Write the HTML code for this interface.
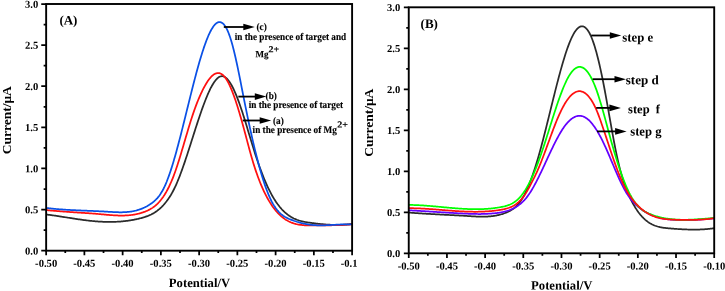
<!DOCTYPE html>
<html lang="en"><head><meta charset="utf-8"><title>Figure</title>
<style>html,body{margin:0;padding:0;background:#fff}svg{display:block}</style></head>
<body>
<svg width="725" height="291" viewBox="0 0 725 291">
<style>text{font-family:'Liberation Serif',serif;font-weight:bold;fill:#000} .s,.p,.g{stroke:#000;stroke-width:.15px} .t{font-size:10.6px} .l{font-size:12.7px} .s{font-size:10.1px} .p{font-size:9.3px} .g{font-size:9.4px} .m{font-size:13px} .c{font-size:13.5px}</style>
<rect width="725" height="291" fill="#fff"/>
<path d="M46.20 214.47 L46.97 214.57 L47.73 214.66 L48.50 214.76 L49.27 214.86 L50.03 214.96 L50.80 215.07 L51.57 215.17 L52.33 215.28 L53.10 215.39 L53.87 215.50 L54.63 215.61 L55.40 215.72 L56.17 215.83 L56.93 215.95 L57.70 216.06 L58.47 216.18 L59.23 216.30 L60.00 216.42 L60.77 216.54 L61.53 216.65 L62.30 216.77 L63.07 216.89 L63.83 217.02 L64.60 217.14 L65.37 217.26 L66.13 217.38 L66.90 217.50 L67.67 217.62 L68.43 217.74 L69.20 217.86 L69.97 217.98 L70.73 218.10 L71.50 218.22 L72.27 218.34 L73.03 218.46 L73.80 218.58 L74.57 218.70 L75.33 218.81 L76.10 218.93 L76.87 219.04 L77.63 219.16 L78.40 219.27 L79.17 219.38 L79.93 219.49 L80.70 219.60 L81.47 219.71 L82.23 219.81 L83.00 219.92 L83.77 220.02 L84.53 220.12 L85.30 220.22 L86.07 220.31 L86.83 220.41 L87.60 220.50 L88.37 220.59 L89.13 220.68 L89.90 220.76 L90.67 220.84 L91.43 220.92 L92.20 221.00 L92.97 221.08 L93.73 221.15 L94.50 221.22 L95.27 221.29 L96.03 221.35 L96.80 221.41 L97.57 221.47 L98.33 221.52 L99.10 221.57 L99.87 221.62 L100.63 221.66 L101.40 221.71 L102.17 221.74 L102.93 221.78 L103.70 221.81 L104.47 221.84 L105.23 221.86 L106.00 221.88 L106.77 221.90 L107.53 221.91 L108.30 221.92 L109.07 221.92 L109.83 221.92 L110.60 221.92 L111.37 221.91 L112.13 221.90 L112.90 221.89 L113.67 221.87 L114.43 221.85 L115.20 221.82 L115.97 221.79 L116.73 221.75 L117.50 221.71 L118.27 221.67 L119.03 221.62 L119.80 221.56 L120.57 221.51 L121.33 221.44 L122.10 221.38 L122.87 221.31 L123.63 221.23 L124.40 221.15 L125.17 221.06 L125.93 220.97 L126.70 220.87 L127.47 220.77 L128.23 220.67 L129.00 220.56 L129.77 220.44 L130.53 220.32 L131.30 220.19 L132.07 220.06 L132.83 219.92 L133.60 219.78 L134.37 219.63 L135.13 219.48 L135.90 219.32 L136.67 219.16 L137.43 218.99 L138.20 218.81 L138.97 218.63 L139.73 218.44 L140.50 218.25 L141.27 218.05 L142.03 217.85 L142.80 217.63 L143.57 217.41 L144.33 217.17 L145.10 216.93 L145.87 216.67 L146.63 216.40 L147.40 216.11 L148.17 215.81 L148.93 215.49 L149.70 215.15 L150.47 214.80 L151.23 214.43 L152.00 214.03 L152.77 213.62 L153.53 213.18 L154.30 212.72 L155.07 212.23 L155.83 211.72 L156.60 211.18 L157.37 210.62 L158.13 210.02 L158.90 209.40 L159.67 208.75 L160.43 208.06 L161.20 207.35 L161.97 206.60 L162.73 205.81 L163.50 204.99 L164.27 204.13 L165.03 203.24 L165.80 202.31 L166.57 201.33 L167.33 200.31 L168.10 199.24 L168.87 198.12 L169.63 196.96 L170.40 195.74 L171.17 194.46 L171.93 193.13 L172.70 191.74 L173.47 190.28 L174.23 188.76 L175.00 187.18 L175.77 185.53 L176.53 183.81 L177.30 182.02 L178.07 180.18 L178.83 178.28 L179.60 176.32 L180.37 174.31 L181.13 172.25 L181.90 170.15 L182.67 168.00 L183.43 165.82 L184.20 163.60 L184.97 161.35 L185.73 159.06 L186.50 156.75 L187.27 154.42 L188.03 152.07 L188.80 149.70 L189.57 147.31 L190.33 144.92 L191.10 142.51 L191.87 140.10 L192.63 137.69 L193.40 135.28 L194.17 132.88 L194.93 130.48 L195.70 128.10 L196.47 125.73 L197.23 123.37 L198.00 121.04 L198.77 118.73 L199.53 116.44 L200.30 114.19 L201.07 111.96 L201.83 109.78 L202.60 107.63 L203.37 105.53 L204.13 103.46 L204.90 101.45 L205.67 99.49 L206.43 97.59 L207.20 95.74 L207.97 93.95 L208.73 92.23 L209.50 90.57 L210.27 88.99 L211.03 87.48 L211.80 86.05 L212.57 84.70 L213.33 83.44 L214.10 82.26 L214.87 81.18 L215.63 80.20 L216.40 79.31 L217.17 78.52 L217.93 77.85 L218.70 77.28 L219.47 76.82 L220.23 76.48 L221.00 76.27 L221.77 76.17 L222.53 76.20 L223.30 76.36 L224.07 76.64 L224.83 77.04 L225.60 77.56 L226.37 78.18 L227.13 78.92 L227.90 79.77 L228.67 80.73 L229.43 81.78 L230.20 82.93 L230.97 84.19 L231.73 85.53 L232.50 86.97 L233.27 88.49 L234.03 90.10 L234.80 91.79 L235.57 93.56 L236.33 95.41 L237.10 97.33 L237.87 99.32 L238.63 101.38 L239.40 103.51 L240.17 105.69 L240.93 107.94 L241.70 110.23 L242.47 112.57 L243.23 114.96 L244.00 117.38 L244.77 119.84 L245.53 122.32 L246.30 124.82 L247.07 127.34 L247.83 129.88 L248.60 132.42 L249.37 134.97 L250.13 137.51 L250.90 140.05 L251.67 142.58 L252.43 145.09 L253.20 147.57 L253.97 150.04 L254.73 152.47 L255.50 154.86 L256.27 157.22 L257.03 159.52 L257.80 161.79 L258.57 164.01 L259.33 166.18 L260.10 168.30 L260.87 170.38 L261.63 172.42 L262.40 174.40 L263.17 176.35 L263.93 178.24 L264.70 180.09 L265.47 181.89 L266.23 183.64 L267.00 185.35 L267.77 187.01 L268.53 188.62 L269.30 190.19 L270.07 191.71 L270.83 193.18 L271.60 194.60 L272.37 195.97 L273.13 197.30 L273.90 198.58 L274.67 199.81 L275.43 201.00 L276.20 202.15 L276.97 203.25 L277.73 204.31 L278.50 205.33 L279.27 206.31 L280.03 207.24 L280.80 208.14 L281.57 209.01 L282.33 209.83 L283.10 210.62 L283.87 211.38 L284.63 212.10 L285.40 212.78 L286.17 213.44 L286.93 214.06 L287.70 214.66 L288.47 215.22 L289.23 215.76 L290.00 216.26 L290.77 216.74 L291.53 217.20 L292.30 217.63 L293.07 218.04 L293.83 218.42 L294.60 218.78 L295.37 219.12 L296.13 219.44 L296.90 219.74 L297.67 220.02 L298.43 220.28 L299.20 220.53 L299.97 220.76 L300.73 220.97 L301.50 221.18 L302.27 221.36 L303.03 221.54 L303.80 221.71 L304.57 221.86 L305.33 222.01 L306.10 222.14 L306.87 222.27 L307.63 222.39 L308.40 222.51 L309.17 222.62 L309.93 222.73 L310.70 222.83 L311.47 222.94 L312.23 223.04 L313.00 223.14 L313.77 223.23 L314.53 223.33 L315.30 223.42 L316.07 223.51 L316.83 223.60 L317.60 223.69 L318.37 223.78 L319.13 223.86 L319.90 223.94 L320.67 224.02 L321.43 224.10 L322.20 224.17 L322.97 224.24 L323.73 224.31 L324.50 224.38 L325.27 224.44 L326.03 224.50 L326.80 224.55 L327.57 224.60 L328.33 224.65 L329.10 224.70 L329.87 224.74 L330.63 224.78 L331.40 224.81 L332.17 224.84 L332.93 224.86 L333.70 224.89 L334.47 224.90 L335.23 224.92 L336.00 224.92 L336.77 224.93 L337.53 224.93 L338.30 224.92 L339.07 224.91 L339.83 224.89 L340.60 224.87 L341.37 224.85 L342.13 224.81 L342.90 224.78 L343.67 224.74 L344.43 224.69 L345.20 224.63 L345.97 224.57 L346.73 224.51 L347.50 224.44 L348.27 224.36 L349.03 224.28 L349.80 224.19 L350.57 224.09 L351.33 223.99 L352.10 223.88" stroke="#2b2b2b" stroke-width="1.75" fill="none" stroke-linejoin="round" stroke-linecap="butt"/>
<path d="M46.20 210.04 L46.97 210.13 L47.73 210.21 L48.50 210.28 L49.27 210.36 L50.03 210.44 L50.80 210.51 L51.57 210.58 L52.33 210.66 L53.10 210.73 L53.87 210.80 L54.63 210.86 L55.40 210.93 L56.17 210.99 L56.93 211.06 L57.70 211.12 L58.47 211.18 L59.23 211.24 L60.00 211.30 L60.77 211.36 L61.53 211.42 L62.30 211.48 L63.07 211.53 L63.83 211.59 L64.60 211.64 L65.37 211.70 L66.13 211.75 L66.90 211.80 L67.67 211.86 L68.43 211.91 L69.20 211.96 L69.97 212.01 L70.73 212.06 L71.50 212.11 L72.27 212.16 L73.03 212.21 L73.80 212.26 L74.57 212.31 L75.33 212.36 L76.10 212.41 L76.87 212.46 L77.63 212.51 L78.40 212.56 L79.17 212.61 L79.93 212.66 L80.70 212.71 L81.47 212.76 L82.23 212.81 L83.00 212.86 L83.77 212.91 L84.53 212.96 L85.30 213.01 L86.07 213.06 L86.83 213.12 L87.60 213.17 L88.37 213.22 L89.13 213.28 L89.90 213.33 L90.67 213.39 L91.43 213.45 L92.20 213.50 L92.97 213.56 L93.73 213.62 L94.50 213.68 L95.27 213.74 L96.03 213.81 L96.80 213.87 L97.57 213.93 L98.33 214.00 L99.10 214.07 L99.87 214.13 L100.63 214.20 L101.40 214.27 L102.17 214.34 L102.93 214.41 L103.70 214.49 L104.47 214.56 L105.23 214.63 L106.00 214.70 L106.77 214.76 L107.53 214.83 L108.30 214.90 L109.07 214.96 L109.83 215.02 L110.60 215.08 L111.37 215.14 L112.13 215.20 L112.90 215.25 L113.67 215.30 L114.43 215.34 L115.20 215.39 L115.97 215.42 L116.73 215.46 L117.50 215.49 L118.27 215.51 L119.03 215.53 L119.80 215.55 L120.57 215.56 L121.33 215.56 L122.10 215.56 L122.87 215.55 L123.63 215.54 L124.40 215.52 L125.17 215.49 L125.93 215.46 L126.70 215.42 L127.47 215.37 L128.23 215.31 L129.00 215.25 L129.77 215.17 L130.53 215.09 L131.30 215.00 L132.07 214.90 L132.83 214.79 L133.60 214.67 L134.37 214.55 L135.13 214.41 L135.90 214.26 L136.67 214.10 L137.43 213.93 L138.20 213.75 L138.97 213.56 L139.73 213.36 L140.50 213.14 L141.27 212.92 L142.03 212.68 L142.80 212.43 L143.57 212.16 L144.33 211.89 L145.10 211.60 L145.87 211.29 L146.63 210.97 L147.40 210.63 L148.17 210.27 L148.93 209.89 L149.70 209.49 L150.47 209.07 L151.23 208.61 L152.00 208.13 L152.77 207.62 L153.53 207.08 L154.30 206.50 L155.07 205.89 L155.83 205.24 L156.60 204.56 L157.37 203.83 L158.13 203.07 L158.90 202.26 L159.67 201.40 L160.43 200.50 L161.20 199.55 L161.97 198.55 L162.73 197.49 L163.50 196.39 L164.27 195.23 L165.03 194.01 L165.80 192.73 L166.57 191.39 L167.33 189.99 L168.10 188.53 L168.87 187.00 L169.63 185.40 L170.40 183.73 L171.17 182.00 L171.93 180.19 L172.70 178.31 L173.47 176.35 L174.23 174.31 L175.00 172.20 L175.77 170.01 L176.53 167.76 L177.30 165.44 L178.07 163.07 L178.83 160.65 L179.60 158.19 L180.37 155.68 L181.13 153.15 L181.90 150.58 L182.67 148.00 L183.43 145.40 L184.20 142.79 L184.97 140.18 L185.73 137.57 L186.50 134.97 L187.27 132.38 L188.03 129.81 L188.80 127.26 L189.57 124.75 L190.33 122.28 L191.10 119.84 L191.87 117.46 L192.63 115.13 L193.40 112.86 L194.17 110.64 L194.93 108.49 L195.70 106.40 L196.47 104.36 L197.23 102.39 L198.00 100.47 L198.77 98.61 L199.53 96.81 L200.30 95.07 L201.07 93.38 L201.83 91.76 L202.60 90.19 L203.37 88.68 L204.13 87.23 L204.90 85.83 L205.67 84.49 L206.43 83.22 L207.20 82.01 L207.97 80.86 L208.73 79.78 L209.50 78.77 L210.27 77.84 L211.03 76.98 L211.80 76.20 L212.57 75.50 L213.33 74.88 L214.10 74.34 L214.87 73.90 L215.63 73.54 L216.40 73.28 L217.17 73.11 L217.93 73.04 L218.70 73.06 L219.47 73.19 L220.23 73.43 L221.00 73.77 L221.77 74.22 L222.53 74.78 L223.30 75.45 L224.07 76.24 L224.83 77.15 L225.60 78.17 L226.37 79.31 L227.13 80.56 L227.90 81.91 L228.67 83.37 L229.43 84.92 L230.20 86.58 L230.97 88.32 L231.73 90.16 L232.50 92.08 L233.27 94.09 L234.03 96.18 L234.80 98.35 L235.57 100.58 L236.33 102.90 L237.10 105.27 L237.87 107.71 L238.63 110.22 L239.40 112.77 L240.17 115.39 L240.93 118.05 L241.70 120.75 L242.47 123.50 L243.23 126.29 L244.00 129.11 L244.77 131.96 L245.53 134.84 L246.30 137.73 L247.07 140.63 L247.83 143.52 L248.60 146.39 L249.37 149.23 L250.13 152.04 L250.90 154.79 L251.67 157.48 L252.43 160.10 L253.20 162.65 L253.97 165.12 L254.73 167.53 L255.50 169.86 L256.27 172.13 L257.03 174.32 L257.80 176.46 L258.57 178.52 L259.33 180.53 L260.10 182.47 L260.87 184.35 L261.63 186.17 L262.40 187.94 L263.17 189.64 L263.93 191.30 L264.70 192.89 L265.47 194.43 L266.23 195.93 L267.00 197.37 L267.77 198.76 L268.53 200.10 L269.30 201.39 L270.07 202.64 L270.83 203.85 L271.60 205.01 L272.37 206.13 L273.13 207.21 L273.90 208.24 L274.67 209.24 L275.43 210.20 L276.20 211.11 L276.97 211.99 L277.73 212.84 L278.50 213.64 L279.27 214.42 L280.03 215.15 L280.80 215.86 L281.57 216.53 L282.33 217.17 L283.10 217.77 L283.87 218.35 L284.63 218.89 L285.40 219.41 L286.17 219.90 L286.93 220.36 L287.70 220.80 L288.47 221.21 L289.23 221.59 L290.00 221.95 L290.77 222.29 L291.53 222.60 L292.30 222.89 L293.07 223.17 L293.83 223.42 L294.60 223.65 L295.37 223.86 L296.13 224.06 L296.90 224.23 L297.67 224.40 L298.43 224.54 L299.20 224.67 L299.97 224.79 L300.73 224.90 L301.50 224.99 L302.27 225.07 L303.03 225.14 L303.80 225.20 L304.57 225.26 L305.33 225.30 L306.10 225.34 L306.87 225.37 L307.63 225.39 L308.40 225.41 L309.17 225.42 L309.93 225.43 L310.70 225.44 L311.47 225.45 L312.23 225.46 L313.00 225.46 L313.77 225.46 L314.53 225.47 L315.30 225.47 L316.07 225.47 L316.83 225.47 L317.60 225.46 L318.37 225.46 L319.13 225.46 L319.90 225.45 L320.67 225.45 L321.43 225.44 L322.20 225.43 L322.97 225.42 L323.73 225.41 L324.50 225.40 L325.27 225.39 L326.03 225.38 L326.80 225.36 L327.57 225.35 L328.33 225.33 L329.10 225.31 L329.87 225.30 L330.63 225.28 L331.40 225.26 L332.17 225.24 L332.93 225.21 L333.70 225.19 L334.47 225.17 L335.23 225.14 L336.00 225.12 L336.77 225.09 L337.53 225.06 L338.30 225.04 L339.07 225.01 L339.83 224.98 L340.60 224.95 L341.37 224.91 L342.13 224.88 L342.90 224.85 L343.67 224.81 L344.43 224.78 L345.20 224.74 L345.97 224.71 L346.73 224.67 L347.50 224.63 L348.27 224.59 L349.03 224.55 L349.80 224.51 L350.57 224.47 L351.33 224.42 L352.10 224.38" stroke="#ff1010" stroke-width="1.75" fill="none" stroke-linejoin="round" stroke-linecap="butt"/>
<path d="M46.20 207.93 L46.97 208.03 L47.73 208.12 L48.50 208.21 L49.27 208.30 L50.03 208.39 L50.80 208.47 L51.57 208.55 L52.33 208.63 L53.10 208.71 L53.87 208.78 L54.63 208.86 L55.40 208.93 L56.17 209.00 L56.93 209.07 L57.70 209.13 L58.47 209.19 L59.23 209.26 L60.00 209.32 L60.77 209.38 L61.53 209.43 L62.30 209.49 L63.07 209.54 L63.83 209.60 L64.60 209.65 L65.37 209.70 L66.13 209.75 L66.90 209.79 L67.67 209.84 L68.43 209.88 L69.20 209.93 L69.97 209.97 L70.73 210.01 L71.50 210.05 L72.27 210.09 L73.03 210.13 L73.80 210.17 L74.57 210.21 L75.33 210.24 L76.10 210.28 L76.87 210.32 L77.63 210.35 L78.40 210.38 L79.17 210.42 L79.93 210.45 L80.70 210.48 L81.47 210.51 L82.23 210.55 L83.00 210.58 L83.77 210.61 L84.53 210.64 L85.30 210.67 L86.07 210.70 L86.83 210.73 L87.60 210.76 L88.37 210.79 L89.13 210.83 L89.90 210.86 L90.67 210.89 L91.43 210.92 L92.20 210.95 L92.97 210.98 L93.73 211.02 L94.50 211.05 L95.27 211.08 L96.03 211.12 L96.80 211.15 L97.57 211.19 L98.33 211.22 L99.10 211.26 L99.87 211.29 L100.63 211.33 L101.40 211.37 L102.17 211.41 L102.93 211.45 L103.70 211.49 L104.47 211.54 L105.23 211.58 L106.00 211.62 L106.77 211.67 L107.53 211.72 L108.30 211.76 L109.07 211.81 L109.83 211.86 L110.60 211.90 L111.37 211.95 L112.13 211.99 L112.90 212.03 L113.67 212.07 L114.43 212.11 L115.20 212.14 L115.97 212.18 L116.73 212.20 L117.50 212.23 L118.27 212.24 L119.03 212.26 L119.80 212.27 L120.57 212.27 L121.33 212.27 L122.10 212.26 L122.87 212.24 L123.63 212.22 L124.40 212.19 L125.17 212.15 L125.93 212.10 L126.70 212.05 L127.47 211.98 L128.23 211.91 L129.00 211.83 L129.77 211.74 L130.53 211.63 L131.30 211.52 L132.07 211.39 L132.83 211.26 L133.60 211.11 L134.37 210.95 L135.13 210.77 L135.90 210.59 L136.67 210.39 L137.43 210.17 L138.20 209.94 L138.97 209.70 L139.73 209.44 L140.50 209.17 L141.27 208.88 L142.03 208.58 L142.80 208.26 L143.57 207.92 L144.33 207.57 L145.10 207.19 L145.87 206.80 L146.63 206.40 L147.40 205.97 L148.17 205.52 L148.93 205.06 L149.70 204.57 L150.47 204.07 L151.23 203.54 L152.00 202.99 L152.77 202.41 L153.53 201.80 L154.30 201.14 L155.07 200.45 L155.83 199.71 L156.60 198.92 L157.37 198.07 L158.13 197.16 L158.90 196.19 L159.67 195.15 L160.43 194.04 L161.20 192.85 L161.97 191.57 L162.73 190.21 L163.50 188.76 L164.27 187.22 L165.03 185.57 L165.80 183.83 L166.57 181.99 L167.33 180.05 L168.10 178.03 L168.87 175.92 L169.63 173.73 L170.40 171.46 L171.17 169.12 L171.93 166.71 L172.70 164.22 L173.47 161.68 L174.23 159.07 L175.00 156.40 L175.77 153.68 L176.53 150.91 L177.30 148.10 L178.07 145.24 L178.83 142.34 L179.60 139.40 L180.37 136.43 L181.13 133.43 L181.90 130.40 L182.67 127.36 L183.43 124.29 L184.20 121.21 L184.97 118.12 L185.73 115.01 L186.50 111.91 L187.27 108.80 L188.03 105.69 L188.80 102.59 L189.57 99.49 L190.33 96.41 L191.10 93.34 L191.87 90.30 L192.63 87.27 L193.40 84.27 L194.17 81.30 L194.93 78.36 L195.70 75.46 L196.47 72.60 L197.23 69.78 L198.00 67.01 L198.77 64.28 L199.53 61.61 L200.30 59.00 L201.07 56.45 L201.83 53.96 L202.60 51.53 L203.37 49.18 L204.13 46.90 L204.90 44.70 L205.67 42.58 L206.43 40.54 L207.20 38.59 L207.97 36.73 L208.73 34.96 L209.50 33.30 L210.27 31.73 L211.03 30.27 L211.80 28.92 L212.57 27.68 L213.33 26.55 L214.10 25.54 L214.87 24.66 L215.63 23.89 L216.40 23.26 L217.17 22.76 L217.93 22.39 L218.70 22.16 L219.47 22.08 L220.23 22.13 L221.00 22.34 L221.77 22.70 L222.53 23.21 L223.30 23.88 L224.07 24.71 L224.83 25.71 L225.60 26.87 L226.37 28.21 L227.13 29.72 L227.90 31.41 L228.67 33.28 L229.43 35.33 L230.20 37.56 L230.97 39.96 L231.73 42.53 L232.50 45.26 L233.27 48.16 L234.03 51.22 L234.80 54.43 L235.57 57.76 L236.33 61.21 L237.10 64.77 L237.87 68.42 L238.63 72.15 L239.40 75.94 L240.17 79.78 L240.93 83.65 L241.70 87.55 L242.47 91.46 L243.23 95.36 L244.00 99.24 L244.77 103.09 L245.53 106.91 L246.30 110.67 L247.07 114.40 L247.83 118.07 L248.60 121.70 L249.37 125.28 L250.13 128.81 L250.90 132.29 L251.67 135.72 L252.43 139.09 L253.20 142.40 L253.97 145.66 L254.73 148.85 L255.50 151.99 L256.27 155.07 L257.03 158.08 L257.80 161.02 L258.57 163.90 L259.33 166.71 L260.10 169.46 L260.87 172.13 L261.63 174.73 L262.40 177.25 L263.17 179.70 L263.93 182.08 L264.70 184.37 L265.47 186.59 L266.23 188.73 L267.00 190.78 L267.77 192.75 L268.53 194.63 L269.30 196.43 L270.07 198.14 L270.83 199.76 L271.60 201.29 L272.37 202.73 L273.13 204.09 L273.90 205.37 L274.67 206.57 L275.43 207.70 L276.20 208.76 L276.97 209.75 L277.73 210.68 L278.50 211.55 L279.27 212.36 L280.03 213.11 L280.80 213.81 L281.57 214.46 L282.33 215.06 L283.10 215.63 L283.87 216.15 L284.63 216.64 L285.40 217.09 L286.17 217.51 L286.93 217.91 L287.70 218.28 L288.47 218.62 L289.23 218.96 L290.00 219.27 L290.77 219.58 L291.53 219.87 L292.30 220.16 L293.07 220.44 L293.83 220.72 L294.60 220.98 L295.37 221.24 L296.13 221.49 L296.90 221.74 L297.67 221.97 L298.43 222.20 L299.20 222.43 L299.97 222.64 L300.73 222.85 L301.50 223.04 L302.27 223.23 L303.03 223.42 L303.80 223.59 L304.57 223.76 L305.33 223.91 L306.10 224.06 L306.87 224.20 L307.63 224.34 L308.40 224.46 L309.17 224.58 L309.93 224.68 L310.70 224.78 L311.47 224.87 L312.23 224.95 L313.00 225.03 L313.77 225.09 L314.53 225.15 L315.30 225.20 L316.07 225.24 L316.83 225.27 L317.60 225.30 L318.37 225.32 L319.13 225.34 L319.90 225.35 L320.67 225.35 L321.43 225.35 L322.20 225.34 L322.97 225.33 L323.73 225.32 L324.50 225.30 L325.27 225.27 L326.03 225.25 L326.80 225.22 L327.57 225.19 L328.33 225.15 L329.10 225.11 L329.87 225.08 L330.63 225.04 L331.40 224.99 L332.17 224.95 L332.93 224.91 L333.70 224.86 L334.47 224.82 L335.23 224.77 L336.00 224.73 L336.77 224.69 L337.53 224.65 L338.30 224.61 L339.07 224.57 L339.83 224.53 L340.60 224.49 L341.37 224.46 L342.13 224.43 L342.90 224.41 L343.67 224.38 L344.43 224.37 L345.20 224.35 L345.97 224.34 L346.73 224.33 L347.50 224.33 L348.27 224.34 L349.03 224.35 L349.80 224.36 L350.57 224.38 L351.33 224.41 L352.10 224.44" stroke="#0a50e6" stroke-width="1.75" fill="none" stroke-linejoin="round" stroke-linecap="butt"/>
<path d="M41.25 250.70 H46.15 M43.65 230.14 H46.15 M41.25 209.58 H46.15 M43.65 189.02 H46.15 M41.25 168.47 H46.15 M43.65 147.91 H46.15 M41.25 127.35 H46.15 M43.65 106.79 H46.15 M41.25 86.23 H46.15 M43.65 65.68 H46.15 M41.25 45.12 H46.15 M43.65 24.56 H46.15 M41.25 4.00 H46.15 M46.15 250.70 V255.30 M65.27 250.70 V253.10 M84.39 250.70 V255.30 M103.52 250.70 V253.10 M122.64 250.70 V255.30 M141.76 250.70 V253.10 M160.88 250.70 V255.30 M180.00 250.70 V253.10 M199.13 250.70 V255.30 M218.25 250.70 V253.10 M237.37 250.70 V255.30 M256.49 250.70 V253.10 M275.61 250.70 V255.30 M294.73 250.70 V253.10 M313.86 250.70 V255.30 M332.98 250.70 V253.10 M352.10 250.70 V255.30" stroke="#000" stroke-width="1.75" fill="none"/>
<rect x="46.15" y="4.00" width="305.95" height="246.70" fill="none" stroke="#000" stroke-width="1.90"/>
<text x="38.30" y="254.40" text-anchor="end" class="t" transform="rotate(0.03 38.30 254.40)">0.0</text>
<text x="38.30" y="213.28" text-anchor="end" class="t" transform="rotate(0.03 38.30 213.28)">0.5</text>
<text x="38.30" y="172.17" text-anchor="end" class="t" transform="rotate(0.03 38.30 172.17)">1.0</text>
<text x="38.30" y="131.05" text-anchor="end" class="t" transform="rotate(0.03 38.30 131.05)">1.5</text>
<text x="38.30" y="89.93" text-anchor="end" class="t" transform="rotate(0.03 38.30 89.93)">2.0</text>
<text x="38.30" y="48.82" text-anchor="end" class="t" transform="rotate(0.03 38.30 48.82)">2.5</text>
<text x="38.30" y="7.70" text-anchor="end" class="t" transform="rotate(0.03 38.30 7.70)">3.0</text>
<text x="46.15" y="266.80" text-anchor="middle" class="t" transform="rotate(0.03 46.15 266.80)">-0.50</text>
<text x="84.39" y="266.80" text-anchor="middle" class="t" transform="rotate(0.03 84.39 266.80)">-0.45</text>
<text x="122.64" y="266.80" text-anchor="middle" class="t" transform="rotate(0.03 122.64 266.80)">-0.40</text>
<text x="160.88" y="266.80" text-anchor="middle" class="t" transform="rotate(0.03 160.88 266.80)">-0.35</text>
<text x="199.13" y="266.80" text-anchor="middle" class="t" transform="rotate(0.03 199.13 266.80)">-0.30</text>
<text x="237.37" y="266.80" text-anchor="middle" class="t" transform="rotate(0.03 237.37 266.80)">-0.25</text>
<text x="275.61" y="266.80" text-anchor="middle" class="t" transform="rotate(0.03 275.61 266.80)">-0.20</text>
<text x="313.86" y="266.80" text-anchor="middle" class="t" transform="rotate(0.03 313.86 266.80)">-0.15</text>
<text x="340.70" y="266.80" text-anchor="start" class="t" transform="rotate(0.03 340.70 266.80)">-0.1</text>
<text class="c" text-anchor="middle" transform="translate(11.4 120.25) rotate(-90)">Current/μA</text>
<text class="l" text-anchor="middle" x="199.5" y="287" transform="rotate(0.03 199.5 287)">Potential/V</text>
<text class="m" x="59.4" y="24.4" transform="rotate(0.03 59.4 24.4)">(A)</text>
<path d="M223.80 27.00 H244.30" stroke="#000" stroke-width="1.8" fill="none"/>
<path d="M254.80 27.00 L243.30 23.70 L243.30 30.30 Z" fill="#000"/>
<text class="s" x="256.5" y="30.4" textLength="10.20" lengthAdjust="spacingAndGlyphs" transform="rotate(0.03 256.5 30.4)">(c)</text>
<text class="s" x="234.8" y="39.6" textLength="111.34" lengthAdjust="spacingAndGlyphs" transform="rotate(0.03 234.8 39.6)">in the presence of target and</text>
<text class="g" x="255.5" y="57.3" textLength="13.00" lengthAdjust="spacingAndGlyphs" transform="rotate(0.03 255.5 57.3)">Mg</text>
<text class="p" x="268.5" y="52.3" textLength="10.7" lengthAdjust="spacingAndGlyphs" transform="rotate(0.03 268.5 52.3)">2+</text>
<path d="M238.30 96.60 H255.80" stroke="#000" stroke-width="1.8" fill="none"/>
<path d="M266.30 96.60 L254.80 93.30 L254.80 99.90 Z" fill="#000"/>
<text class="s" x="265.6" y="99.3" textLength="11.23" lengthAdjust="spacingAndGlyphs" transform="rotate(0.03 265.6 99.3)">(b)</text>
<text class="s" x="248.8" y="108" textLength="94.23" lengthAdjust="spacingAndGlyphs" transform="rotate(0.03 248.8 108)">in the presence of target</text>
<path d="M242.80 120.50 H260.70" stroke="#000" stroke-width="1.8" fill="none"/>
<path d="M271.20 120.50 L259.70 117.20 L259.70 123.80 Z" fill="#000"/>
<text class="s" x="273" y="123.8" textLength="10.72" lengthAdjust="spacingAndGlyphs" transform="rotate(0.03 273 123.8)">(a)</text>
<text class="s" x="252.6" y="132.5" textLength="84.30" lengthAdjust="spacingAndGlyphs" transform="rotate(0.03 252.6 132.5)">in the presence of Mg</text>
<text class="p" x="337.3" y="127.6" textLength="10.7" lengthAdjust="spacingAndGlyphs" transform="rotate(0.03 337.3 127.6)">2+</text>
<path d="M408.80 212.57 L409.57 212.63 L410.33 212.69 L411.10 212.75 L411.86 212.81 L412.63 212.87 L413.39 212.92 L414.16 212.98 L414.92 213.03 L415.69 213.09 L416.45 213.14 L417.22 213.19 L417.98 213.24 L418.75 213.30 L419.52 213.35 L420.28 213.40 L421.05 213.45 L421.81 213.49 L422.58 213.54 L423.34 213.59 L424.11 213.64 L424.87 213.68 L425.64 213.73 L426.40 213.77 L427.17 213.82 L427.94 213.86 L428.70 213.91 L429.47 213.95 L430.23 213.99 L431.00 214.04 L431.76 214.08 L432.53 214.12 L433.29 214.16 L434.06 214.20 L434.82 214.24 L435.59 214.29 L436.35 214.33 L437.12 214.37 L437.89 214.41 L438.65 214.45 L439.42 214.49 L440.18 214.53 L440.95 214.57 L441.71 214.61 L442.48 214.64 L443.24 214.68 L444.01 214.72 L444.77 214.76 L445.54 214.80 L446.31 214.84 L447.07 214.88 L447.84 214.92 L448.60 214.96 L449.37 215.00 L450.13 215.04 L450.90 215.08 L451.66 215.12 L452.43 215.16 L453.19 215.20 L453.96 215.24 L454.72 215.28 L455.49 215.32 L456.26 215.36 L457.02 215.41 L457.79 215.45 L458.55 215.49 L459.32 215.53 L460.08 215.58 L460.85 215.62 L461.61 215.66 L462.38 215.71 L463.14 215.75 L463.91 215.80 L464.68 215.84 L465.44 215.89 L466.21 215.94 L466.97 215.99 L467.74 216.03 L468.50 216.08 L469.27 216.13 L470.03 216.18 L470.80 216.23 L471.56 216.27 L472.33 216.32 L473.09 216.36 L473.86 216.40 L474.63 216.44 L475.39 216.48 L476.16 216.52 L476.92 216.55 L477.69 216.58 L478.45 216.60 L479.22 216.63 L479.98 216.64 L480.75 216.66 L481.51 216.67 L482.28 216.67 L483.05 216.67 L483.81 216.66 L484.58 216.65 L485.34 216.63 L486.11 216.60 L486.87 216.57 L487.64 216.53 L488.40 216.48 L489.17 216.43 L489.93 216.36 L490.70 216.29 L491.46 216.21 L492.23 216.12 L493.00 216.03 L493.76 215.92 L494.53 215.80 L495.29 215.68 L496.06 215.54 L496.82 215.39 L497.59 215.23 L498.35 215.06 L499.12 214.88 L499.88 214.69 L500.65 214.49 L501.42 214.27 L502.18 214.04 L502.95 213.80 L503.71 213.54 L504.48 213.27 L505.24 212.99 L506.01 212.69 L506.77 212.38 L507.54 212.05 L508.30 211.70 L509.07 211.33 L509.83 210.94 L510.60 210.52 L511.37 210.06 L512.13 209.58 L512.90 209.06 L513.66 208.49 L514.43 207.89 L515.19 207.24 L515.96 206.54 L516.72 205.78 L517.49 204.98 L518.25 204.11 L519.02 203.19 L519.78 202.20 L520.55 201.15 L521.32 200.03 L522.08 198.83 L522.85 197.56 L523.61 196.22 L524.38 194.80 L525.14 193.31 L525.91 191.75 L526.67 190.12 L527.44 188.42 L528.20 186.65 L528.97 184.81 L529.74 182.90 L530.50 180.93 L531.27 178.89 L532.03 176.78 L532.80 174.61 L533.56 172.38 L534.33 170.08 L535.09 167.72 L535.86 165.29 L536.62 162.81 L537.39 160.26 L538.15 157.66 L538.92 154.99 L539.69 152.27 L540.45 149.50 L541.22 146.68 L541.98 143.81 L542.75 140.91 L543.51 137.96 L544.28 134.98 L545.04 131.98 L545.81 128.94 L546.57 125.89 L547.34 122.81 L548.11 119.72 L548.87 116.62 L549.64 113.51 L550.40 110.40 L551.17 107.29 L551.93 104.19 L552.70 101.09 L553.46 98.00 L554.23 94.93 L554.99 91.88 L555.76 88.86 L556.52 85.86 L557.29 82.89 L558.06 79.95 L558.82 77.06 L559.59 74.20 L560.35 71.39 L561.12 68.63 L561.88 65.93 L562.65 63.28 L563.41 60.69 L564.18 58.17 L564.94 55.72 L565.71 53.34 L566.48 51.03 L567.24 48.81 L568.01 46.67 L568.77 44.62 L569.54 42.66 L570.30 40.79 L571.07 39.02 L571.83 37.36 L572.60 35.80 L573.36 34.35 L574.13 33.01 L574.89 31.79 L575.66 30.68 L576.43 29.70 L577.19 28.83 L577.96 28.08 L578.72 27.46 L579.49 26.97 L580.25 26.60 L581.02 26.37 L581.78 26.26 L582.55 26.30 L583.31 26.47 L584.08 26.78 L584.85 27.23 L585.61 27.82 L586.38 28.56 L587.14 29.45 L587.91 30.48 L588.67 31.67 L589.44 33.02 L590.20 34.52 L590.97 36.17 L591.73 37.99 L592.50 39.97 L593.26 42.10 L594.03 44.38 L594.80 46.81 L595.56 49.39 L596.33 52.10 L597.09 54.96 L597.86 57.95 L598.62 61.06 L599.39 64.31 L600.15 67.67 L600.92 71.16 L601.68 74.76 L602.45 78.47 L603.22 82.29 L603.98 86.21 L604.75 90.24 L605.51 94.36 L606.28 98.55 L607.04 102.81 L607.81 107.10 L608.57 111.43 L609.34 115.78 L610.10 120.12 L610.87 124.44 L611.63 128.73 L612.40 132.96 L613.17 137.14 L613.93 141.23 L614.70 145.23 L615.46 149.11 L616.23 152.87 L616.99 156.48 L617.76 159.93 L618.52 163.23 L619.29 166.37 L620.05 169.37 L620.82 172.22 L621.58 174.94 L622.35 177.53 L623.12 180.00 L623.88 182.36 L624.65 184.60 L625.41 186.74 L626.18 188.78 L626.94 190.73 L627.71 192.60 L628.47 194.38 L629.24 196.10 L630.00 197.74 L630.77 199.33 L631.54 200.86 L632.30 202.33 L633.07 203.75 L633.83 205.11 L634.60 206.42 L635.36 207.68 L636.13 208.88 L636.89 210.04 L637.66 211.15 L638.42 212.21 L639.19 213.23 L639.95 214.19 L640.72 215.12 L641.49 216.00 L642.25 216.84 L643.02 217.64 L643.78 218.40 L644.55 219.12 L645.31 219.80 L646.08 220.45 L646.84 221.06 L647.61 221.64 L648.37 222.18 L649.14 222.69 L649.91 223.17 L650.67 223.62 L651.44 224.04 L652.20 224.44 L652.97 224.81 L653.73 225.15 L654.50 225.47 L655.26 225.76 L656.03 226.03 L656.79 226.28 L657.56 226.52 L658.32 226.73 L659.09 226.92 L659.86 227.10 L660.62 227.27 L661.39 227.41 L662.15 227.55 L662.92 227.67 L663.68 227.79 L664.45 227.89 L665.21 227.98 L665.98 228.07 L666.74 228.15 L667.51 228.22 L668.28 228.29 L669.04 228.36 L669.81 228.42 L670.57 228.48 L671.34 228.54 L672.10 228.60 L672.87 228.66 L673.63 228.72 L674.40 228.78 L675.16 228.84 L675.93 228.89 L676.69 228.94 L677.46 229.00 L678.23 229.05 L678.99 229.10 L679.76 229.14 L680.52 229.19 L681.29 229.23 L682.05 229.27 L682.82 229.31 L683.58 229.35 L684.35 229.38 L685.11 229.42 L685.88 229.45 L686.65 229.47 L687.41 229.50 L688.18 229.52 L688.94 229.54 L689.71 229.56 L690.47 229.58 L691.24 229.59 L692.00 229.60 L692.77 229.60 L693.53 229.60 L694.30 229.60 L695.06 229.60 L695.83 229.59 L696.60 229.58 L697.36 229.57 L698.13 229.55 L698.89 229.53 L699.66 229.51 L700.42 229.48 L701.19 229.44 L701.95 229.41 L702.72 229.37 L703.48 229.32 L704.25 229.27 L705.02 229.22 L705.78 229.16 L706.55 229.10 L707.31 229.03 L708.08 228.96 L708.84 228.89 L709.61 228.81 L710.37 228.72 L711.14 228.63 L711.90 228.53 L712.67 228.43 L713.43 228.33 L714.20 228.22" stroke="#2b2b2b" stroke-width="1.75" fill="none" stroke-linejoin="round" stroke-linecap="butt"/>
<path d="M408.80 210.32 L409.57 210.36 L410.33 210.40 L411.10 210.45 L411.86 210.49 L412.63 210.53 L413.39 210.57 L414.16 210.61 L414.92 210.66 L415.69 210.70 L416.45 210.74 L417.22 210.79 L417.98 210.83 L418.75 210.88 L419.52 210.92 L420.28 210.97 L421.05 211.01 L421.81 211.06 L422.58 211.10 L423.34 211.15 L424.11 211.20 L424.87 211.24 L425.64 211.29 L426.40 211.34 L427.17 211.39 L427.94 211.43 L428.70 211.48 L429.47 211.53 L430.23 211.58 L431.00 211.62 L431.76 211.67 L432.53 211.72 L433.29 211.77 L434.06 211.82 L434.82 211.86 L435.59 211.91 L436.35 211.96 L437.12 212.01 L437.89 212.06 L438.65 212.10 L439.42 212.15 L440.18 212.20 L440.95 212.25 L441.71 212.29 L442.48 212.34 L443.24 212.39 L444.01 212.44 L444.77 212.48 L445.54 212.53 L446.31 212.58 L447.07 212.62 L447.84 212.67 L448.60 212.72 L449.37 212.76 L450.13 212.81 L450.90 212.85 L451.66 212.90 L452.43 212.94 L453.19 212.99 L453.96 213.03 L454.72 213.08 L455.49 213.12 L456.26 213.16 L457.02 213.21 L457.79 213.25 L458.55 213.29 L459.32 213.33 L460.08 213.37 L460.85 213.41 L461.61 213.45 L462.38 213.49 L463.14 213.53 L463.91 213.57 L464.68 213.61 L465.44 213.64 L466.21 213.68 L466.97 213.71 L467.74 213.74 L468.50 213.78 L469.27 213.80 L470.03 213.83 L470.80 213.86 L471.56 213.88 L472.33 213.91 L473.09 213.93 L473.86 213.94 L474.63 213.96 L475.39 213.97 L476.16 213.98 L476.92 213.99 L477.69 214.00 L478.45 214.00 L479.22 214.00 L479.98 214.00 L480.75 214.00 L481.51 213.99 L482.28 213.98 L483.05 213.96 L483.81 213.94 L484.58 213.92 L485.34 213.89 L486.11 213.86 L486.87 213.83 L487.64 213.79 L488.40 213.75 L489.17 213.71 L489.93 213.66 L490.70 213.61 L491.46 213.55 L492.23 213.48 L493.00 213.42 L493.76 213.34 L494.53 213.27 L495.29 213.19 L496.06 213.10 L496.82 213.01 L497.59 212.91 L498.35 212.81 L499.12 212.69 L499.88 212.57 L500.65 212.45 L501.42 212.31 L502.18 212.16 L502.95 212.00 L503.71 211.83 L504.48 211.65 L505.24 211.45 L506.01 211.24 L506.77 211.02 L507.54 210.78 L508.30 210.53 L509.07 210.26 L509.83 209.97 L510.60 209.66 L511.37 209.34 L512.13 208.99 L512.90 208.63 L513.66 208.25 L514.43 207.84 L515.19 207.41 L515.96 206.96 L516.72 206.49 L517.49 205.99 L518.25 205.46 L519.02 204.91 L519.78 204.32 L520.55 203.71 L521.32 203.06 L522.08 202.37 L522.85 201.65 L523.61 200.88 L524.38 200.08 L525.14 199.23 L525.91 198.33 L526.67 197.39 L527.44 196.40 L528.20 195.35 L528.97 194.26 L529.74 193.13 L530.50 191.95 L531.27 190.72 L532.03 189.46 L532.80 188.15 L533.56 186.81 L534.33 185.44 L535.09 184.03 L535.86 182.59 L536.62 181.11 L537.39 179.62 L538.15 178.09 L538.92 176.55 L539.69 174.98 L540.45 173.39 L541.22 171.79 L541.98 170.17 L542.75 168.55 L543.51 166.91 L544.28 165.26 L545.04 163.61 L545.81 161.95 L546.57 160.30 L547.34 158.64 L548.11 156.99 L548.87 155.35 L549.64 153.71 L550.40 152.08 L551.17 150.46 L551.93 148.86 L552.70 147.27 L553.46 145.71 L554.23 144.16 L554.99 142.64 L555.76 141.14 L556.52 139.66 L557.29 138.22 L558.06 136.81 L558.82 135.43 L559.59 134.08 L560.35 132.77 L561.12 131.50 L561.88 130.28 L562.65 129.09 L563.41 127.94 L564.18 126.85 L564.94 125.80 L565.71 124.80 L566.48 123.85 L567.24 122.95 L568.01 122.10 L568.77 121.31 L569.54 120.56 L570.30 119.87 L571.07 119.23 L571.83 118.65 L572.60 118.11 L573.36 117.64 L574.13 117.21 L574.89 116.84 L575.66 116.53 L576.43 116.27 L577.19 116.07 L577.96 115.92 L578.72 115.83 L579.49 115.80 L580.25 115.82 L581.02 115.91 L581.78 116.05 L582.55 116.25 L583.31 116.51 L584.08 116.83 L584.85 117.21 L585.61 117.65 L586.38 118.15 L587.14 118.70 L587.91 119.32 L588.67 119.99 L589.44 120.72 L590.20 121.50 L590.97 122.34 L591.73 123.23 L592.50 124.17 L593.26 125.16 L594.03 126.20 L594.80 127.29 L595.56 128.43 L596.33 129.62 L597.09 130.85 L597.86 132.13 L598.62 133.46 L599.39 134.82 L600.15 136.23 L600.92 137.68 L601.68 139.18 L602.45 140.71 L603.22 142.28 L603.98 143.89 L604.75 145.53 L605.51 147.21 L606.28 148.91 L607.04 150.64 L607.81 152.39 L608.57 154.16 L609.34 155.94 L610.10 157.73 L610.87 159.54 L611.63 161.35 L612.40 163.16 L613.17 164.97 L613.93 166.78 L614.70 168.57 L615.46 170.36 L616.23 172.14 L616.99 173.89 L617.76 175.63 L618.52 177.34 L619.29 179.02 L620.05 180.68 L620.82 182.30 L621.58 183.88 L622.35 185.43 L623.12 186.93 L623.88 188.38 L624.65 189.79 L625.41 191.14 L626.18 192.43 L626.94 193.68 L627.71 194.86 L628.47 196.00 L629.24 197.09 L630.00 198.14 L630.77 199.14 L631.54 200.09 L632.30 201.00 L633.07 201.88 L633.83 202.72 L634.60 203.52 L635.36 204.28 L636.13 205.02 L636.89 205.72 L637.66 206.40 L638.42 207.04 L639.19 207.67 L639.95 208.27 L640.72 208.85 L641.49 209.41 L642.25 209.95 L643.02 210.47 L643.78 210.97 L644.55 211.45 L645.31 211.92 L646.08 212.37 L646.84 212.80 L647.61 213.22 L648.37 213.62 L649.14 214.00 L649.91 214.37 L650.67 214.72 L651.44 215.05 L652.20 215.38 L652.97 215.68 L653.73 215.98 L654.50 216.26 L655.26 216.52 L656.03 216.78 L656.79 217.02 L657.56 217.24 L658.32 217.46 L659.09 217.66 L659.86 217.86 L660.62 218.04 L661.39 218.21 L662.15 218.37 L662.92 218.53 L663.68 218.67 L664.45 218.80 L665.21 218.92 L665.98 219.04 L666.74 219.15 L667.51 219.25 L668.28 219.34 L669.04 219.42 L669.81 219.50 L670.57 219.57 L671.34 219.64 L672.10 219.70 L672.87 219.75 L673.63 219.80 L674.40 219.84 L675.16 219.88 L675.93 219.92 L676.69 219.95 L677.46 219.98 L678.23 220.00 L678.99 220.03 L679.76 220.05 L680.52 220.06 L681.29 220.07 L682.05 220.08 L682.82 220.09 L683.58 220.09 L684.35 220.09 L685.11 220.09 L685.88 220.09 L686.65 220.08 L687.41 220.07 L688.18 220.06 L688.94 220.04 L689.71 220.02 L690.47 220.00 L691.24 219.98 L692.00 219.95 L692.77 219.92 L693.53 219.89 L694.30 219.86 L695.06 219.82 L695.83 219.79 L696.60 219.75 L697.36 219.71 L698.13 219.66 L698.89 219.62 L699.66 219.57 L700.42 219.52 L701.19 219.47 L701.95 219.41 L702.72 219.36 L703.48 219.30 L704.25 219.24 L705.02 219.18 L705.78 219.12 L706.55 219.05 L707.31 218.99 L708.08 218.92 L708.84 218.85 L709.61 218.78 L710.37 218.71 L711.14 218.64 L711.90 218.56 L712.67 218.49 L713.43 218.41 L714.20 218.33" stroke="#6400ff" stroke-width="1.75" fill="none" stroke-linejoin="round" stroke-linecap="butt"/>
<path d="M408.80 204.92 L409.57 204.92 L410.33 204.93 L411.10 204.94 L411.86 204.96 L412.63 204.98 L413.40 205.00 L414.16 205.02 L414.93 205.04 L415.69 205.07 L416.46 205.10 L417.23 205.14 L417.99 205.17 L418.76 205.21 L419.52 205.25 L420.29 205.29 L421.05 205.34 L421.82 205.38 L422.59 205.43 L423.35 205.48 L424.12 205.53 L424.88 205.59 L425.65 205.64 L426.42 205.70 L427.18 205.76 L427.95 205.82 L428.71 205.88 L429.48 205.94 L430.25 206.00 L431.01 206.07 L431.78 206.13 L432.54 206.20 L433.31 206.26 L434.08 206.33 L434.84 206.40 L435.61 206.47 L436.37 206.54 L437.14 206.61 L437.90 206.68 L438.67 206.75 L439.44 206.83 L440.20 206.90 L440.97 206.97 L441.73 207.04 L442.50 207.11 L443.27 207.18 L444.03 207.26 L444.80 207.33 L445.56 207.40 L446.33 207.47 L447.10 207.54 L447.86 207.61 L448.63 207.68 L449.39 207.75 L450.16 207.82 L450.93 207.89 L451.69 207.95 L452.46 208.02 L453.22 208.08 L453.99 208.15 L454.75 208.21 L455.52 208.27 L456.29 208.33 L457.05 208.39 L457.82 208.45 L458.58 208.50 L459.35 208.55 L460.12 208.61 L460.88 208.66 L461.65 208.71 L462.41 208.75 L463.18 208.80 L463.95 208.84 L464.71 208.88 L465.48 208.92 L466.24 208.96 L467.01 208.99 L467.78 209.02 L468.54 209.05 L469.31 209.08 L470.07 209.10 L470.84 209.13 L471.61 209.14 L472.37 209.16 L473.14 209.17 L473.90 209.18 L474.67 209.19 L475.43 209.19 L476.20 209.20 L476.97 209.19 L477.73 209.19 L478.50 209.18 L479.26 209.17 L480.03 209.15 L480.80 209.13 L481.56 209.11 L482.33 209.08 L483.09 209.05 L483.86 209.01 L484.63 208.97 L485.39 208.93 L486.16 208.88 L486.92 208.83 L487.69 208.78 L488.46 208.72 L489.22 208.65 L489.99 208.58 L490.75 208.51 L491.52 208.43 L492.28 208.35 L493.05 208.26 L493.82 208.17 L494.58 208.07 L495.35 207.97 L496.11 207.86 L496.88 207.75 L497.65 207.63 L498.41 207.51 L499.18 207.38 L499.94 207.25 L500.71 207.11 L501.48 206.97 L502.24 206.82 L503.01 206.66 L503.77 206.49 L504.54 206.31 L505.31 206.11 L506.07 205.90 L506.84 205.67 L507.60 205.42 L508.37 205.16 L509.13 204.86 L509.90 204.55 L510.67 204.20 L511.43 203.83 L512.20 203.43 L512.96 202.99 L513.73 202.52 L514.50 202.02 L515.26 201.47 L516.03 200.89 L516.79 200.27 L517.56 199.60 L518.33 198.88 L519.09 198.12 L519.86 197.31 L520.62 196.45 L521.39 195.53 L522.16 194.56 L522.92 193.54 L523.69 192.45 L524.45 191.32 L525.22 190.13 L525.98 188.88 L526.75 187.59 L527.52 186.24 L528.28 184.84 L529.05 183.38 L529.81 181.88 L530.58 180.32 L531.35 178.72 L532.11 177.06 L532.88 175.36 L533.64 173.61 L534.41 171.81 L535.18 169.96 L535.94 168.07 L536.71 166.13 L537.47 164.14 L538.24 162.11 L539.01 160.03 L539.77 157.91 L540.54 155.75 L541.30 153.54 L542.07 151.30 L542.84 149.02 L543.60 146.71 L544.37 144.37 L545.13 142.01 L545.90 139.63 L546.66 137.23 L547.43 134.82 L548.20 132.39 L548.96 129.96 L549.73 127.53 L550.49 125.10 L551.26 122.67 L552.03 120.25 L552.79 117.84 L553.56 115.45 L554.32 113.07 L555.09 110.72 L555.86 108.39 L556.62 106.09 L557.39 103.82 L558.15 101.59 L558.92 99.40 L559.69 97.25 L560.45 95.15 L561.22 93.10 L561.98 91.11 L562.75 89.17 L563.51 87.29 L564.28 85.48 L565.05 83.74 L565.81 82.07 L566.58 80.47 L567.34 78.95 L568.11 77.51 L568.88 76.17 L569.64 74.91 L570.41 73.74 L571.17 72.66 L571.94 71.67 L572.71 70.78 L573.47 69.98 L574.24 69.27 L575.00 68.65 L575.77 68.13 L576.54 67.70 L577.30 67.36 L578.07 67.12 L578.83 66.97 L579.60 66.91 L580.36 66.95 L581.13 67.08 L581.90 67.31 L582.66 67.63 L583.43 68.05 L584.19 68.56 L584.96 69.17 L585.73 69.87 L586.49 70.67 L587.26 71.57 L588.02 72.56 L588.79 73.65 L589.56 74.84 L590.32 76.12 L591.09 77.51 L591.85 78.98 L592.62 80.56 L593.39 82.24 L594.15 84.01 L594.92 85.88 L595.68 87.85 L596.45 89.92 L597.22 92.09 L597.98 94.36 L598.75 96.71 L599.51 99.14 L600.28 101.65 L601.04 104.22 L601.81 106.85 L602.58 109.53 L603.34 112.26 L604.11 115.03 L604.87 117.82 L605.64 120.64 L606.41 123.48 L607.17 126.32 L607.94 129.16 L608.70 132.00 L609.47 134.83 L610.24 137.63 L611.00 140.41 L611.77 143.15 L612.53 145.86 L613.30 148.52 L614.07 151.15 L614.83 153.73 L615.60 156.27 L616.36 158.77 L617.13 161.21 L617.89 163.62 L618.66 165.97 L619.43 168.27 L620.19 170.53 L620.96 172.73 L621.72 174.87 L622.49 176.97 L623.26 179.00 L624.02 180.98 L624.79 182.91 L625.55 184.77 L626.32 186.57 L627.09 188.31 L627.85 189.98 L628.62 191.59 L629.38 193.14 L630.15 194.62 L630.92 196.02 L631.68 197.36 L632.45 198.63 L633.21 199.84 L633.98 200.98 L634.74 202.05 L635.51 203.07 L636.28 204.03 L637.04 204.93 L637.81 205.79 L638.57 206.59 L639.34 207.34 L640.11 208.04 L640.87 208.71 L641.64 209.33 L642.40 209.91 L643.17 210.45 L643.94 210.96 L644.70 211.44 L645.47 211.89 L646.23 212.31 L647.00 212.71 L647.77 213.08 L648.53 213.43 L649.30 213.77 L650.06 214.08 L650.83 214.39 L651.59 214.68 L652.36 214.96 L653.13 215.24 L653.89 215.50 L654.66 215.75 L655.42 216.00 L656.19 216.23 L656.96 216.46 L657.72 216.67 L658.49 216.88 L659.25 217.08 L660.02 217.27 L660.79 217.45 L661.55 217.63 L662.32 217.79 L663.08 217.95 L663.85 218.10 L664.62 218.24 L665.38 218.38 L666.15 218.51 L666.91 218.63 L667.68 218.74 L668.45 218.85 L669.21 218.95 L669.98 219.04 L670.74 219.13 L671.51 219.21 L672.27 219.29 L673.04 219.36 L673.81 219.42 L674.57 219.48 L675.34 219.53 L676.10 219.58 L676.87 219.62 L677.64 219.66 L678.40 219.69 L679.17 219.72 L679.93 219.74 L680.70 219.76 L681.47 219.78 L682.23 219.79 L683.00 219.79 L683.76 219.79 L684.53 219.79 L685.30 219.79 L686.06 219.78 L686.83 219.76 L687.59 219.75 L688.36 219.73 L689.12 219.70 L689.89 219.68 L690.66 219.65 L691.42 219.62 L692.19 219.58 L692.95 219.55 L693.72 219.51 L694.49 219.46 L695.25 219.42 L696.02 219.37 L696.78 219.33 L697.55 219.28 L698.32 219.23 L699.08 219.17 L699.85 219.12 L700.61 219.06 L701.38 219.01 L702.15 218.95 L702.91 218.89 L703.68 218.83 L704.44 218.77 L705.21 218.71 L705.97 218.65 L706.74 218.59 L707.51 218.53 L708.27 218.47 L709.04 218.41 L709.80 218.35 L710.57 218.29 L711.34 218.23 L712.10 218.17 L712.87 218.11 L713.63 218.05 L714.40 217.99" stroke="#00ff00" stroke-width="1.75" fill="none" stroke-linejoin="round" stroke-linecap="butt"/>
<path d="M408.80 208.19 L409.57 208.19 L410.33 208.20 L411.10 208.20 L411.86 208.21 L412.63 208.23 L413.39 208.24 L414.16 208.26 L414.92 208.28 L415.69 208.30 L416.45 208.33 L417.22 208.35 L417.98 208.38 L418.75 208.41 L419.52 208.45 L420.28 208.48 L421.05 208.52 L421.81 208.56 L422.58 208.60 L423.34 208.64 L424.11 208.68 L424.87 208.72 L425.64 208.77 L426.40 208.82 L427.17 208.87 L427.94 208.92 L428.70 208.97 L429.47 209.02 L430.23 209.07 L431.00 209.13 L431.76 209.18 L432.53 209.24 L433.29 209.30 L434.06 209.36 L434.82 209.41 L435.59 209.47 L436.35 209.53 L437.12 209.59 L437.89 209.65 L438.65 209.71 L439.42 209.77 L440.18 209.84 L440.95 209.90 L441.71 209.96 L442.48 210.02 L443.24 210.08 L444.01 210.14 L444.77 210.20 L445.54 210.26 L446.31 210.33 L447.07 210.39 L447.84 210.45 L448.60 210.50 L449.37 210.56 L450.13 210.62 L450.90 210.68 L451.66 210.74 L452.43 210.79 L453.19 210.85 L453.96 210.90 L454.72 210.95 L455.49 211.01 L456.26 211.06 L457.02 211.11 L457.79 211.15 L458.55 211.20 L459.32 211.25 L460.08 211.29 L460.85 211.33 L461.61 211.37 L462.38 211.41 L463.14 211.45 L463.91 211.49 L464.68 211.52 L465.44 211.55 L466.21 211.58 L466.97 211.61 L467.74 211.63 L468.50 211.66 L469.27 211.68 L470.03 211.70 L470.80 211.71 L471.56 211.73 L472.33 211.74 L473.09 211.75 L473.86 211.76 L474.63 211.76 L475.39 211.76 L476.16 211.76 L476.92 211.75 L477.69 211.75 L478.45 211.74 L479.22 211.72 L479.98 211.70 L480.75 211.68 L481.51 211.66 L482.28 211.63 L483.05 211.60 L483.81 211.57 L484.58 211.53 L485.34 211.49 L486.11 211.45 L486.87 211.40 L487.64 211.35 L488.40 211.29 L489.17 211.23 L489.93 211.17 L490.70 211.10 L491.46 211.03 L492.23 210.95 L493.00 210.87 L493.76 210.78 L494.53 210.69 L495.29 210.60 L496.06 210.50 L496.82 210.40 L497.59 210.29 L498.35 210.18 L499.12 210.06 L499.88 209.94 L500.65 209.81 L501.42 209.68 L502.18 209.54 L502.95 209.40 L503.71 209.25 L504.48 209.08 L505.24 208.90 L506.01 208.71 L506.77 208.51 L507.54 208.28 L508.30 208.04 L509.07 207.78 L509.83 207.49 L510.60 207.18 L511.37 206.84 L512.13 206.48 L512.90 206.08 L513.66 205.66 L514.43 205.20 L515.19 204.71 L515.96 204.18 L516.72 203.61 L517.49 203.01 L518.25 202.36 L519.02 201.67 L519.78 200.93 L520.55 200.15 L521.32 199.32 L522.08 198.44 L522.85 197.50 L523.61 196.51 L524.38 195.45 L525.14 194.32 L525.91 193.12 L526.67 191.85 L527.44 190.53 L528.20 189.16 L528.97 187.75 L529.74 186.32 L530.50 184.87 L531.27 183.41 L532.03 181.94 L532.80 180.44 L533.56 178.93 L534.33 177.38 L535.09 175.81 L535.86 174.20 L536.62 172.55 L537.39 170.86 L538.15 169.13 L538.92 167.34 L539.69 165.51 L540.45 163.63 L541.22 161.72 L541.98 159.76 L542.75 157.78 L543.51 155.76 L544.28 153.73 L545.04 151.67 L545.81 149.59 L546.57 147.51 L547.34 145.41 L548.11 143.31 L548.87 141.21 L549.64 139.11 L550.40 137.02 L551.17 134.94 L551.93 132.87 L552.70 130.83 L553.46 128.80 L554.23 126.81 L554.99 124.84 L555.76 122.91 L556.52 121.02 L557.29 119.17 L558.06 117.36 L558.82 115.61 L559.59 113.91 L560.35 112.26 L561.12 110.67 L561.88 109.13 L562.65 107.65 L563.41 106.23 L564.18 104.86 L564.94 103.56 L565.71 102.32 L566.48 101.13 L567.24 100.02 L568.01 98.96 L568.77 97.97 L569.54 97.04 L570.30 96.18 L571.07 95.39 L571.83 94.66 L572.60 94.01 L573.36 93.42 L574.13 92.89 L574.89 92.44 L575.66 92.06 L576.43 91.75 L577.19 91.50 L577.96 91.33 L578.72 91.23 L579.49 91.20 L580.25 91.24 L581.02 91.35 L581.78 91.53 L582.55 91.79 L583.31 92.12 L584.08 92.53 L584.85 93.00 L585.61 93.56 L586.38 94.18 L587.14 94.88 L587.91 95.66 L588.67 96.51 L589.44 97.44 L590.20 98.45 L590.97 99.54 L591.73 100.71 L592.50 101.97 L593.26 103.32 L594.03 104.77 L594.80 106.30 L595.56 107.94 L596.33 109.67 L597.09 111.50 L597.86 113.41 L598.62 115.39 L599.39 117.45 L600.15 119.56 L600.92 121.72 L601.68 123.92 L602.45 126.16 L603.22 128.43 L603.98 130.71 L604.75 133.01 L605.51 135.31 L606.28 137.63 L607.04 139.94 L607.81 142.26 L608.57 144.57 L609.34 146.88 L610.10 149.18 L610.87 151.47 L611.63 153.74 L612.40 155.99 L613.17 158.22 L613.93 160.43 L614.70 162.61 L615.46 164.76 L616.23 166.87 L616.99 168.95 L617.76 170.99 L618.52 172.98 L619.29 174.93 L620.05 176.82 L620.82 178.67 L621.58 180.46 L622.35 182.19 L623.12 183.85 L623.88 185.45 L624.65 186.99 L625.41 188.47 L626.18 189.88 L626.94 191.24 L627.71 192.55 L628.47 193.80 L629.24 195.00 L630.00 196.15 L630.77 197.25 L631.54 198.31 L632.30 199.33 L633.07 200.31 L633.83 201.25 L634.60 202.16 L635.36 203.04 L636.13 203.88 L636.89 204.70 L637.66 205.48 L638.42 206.24 L639.19 206.97 L639.95 207.67 L640.72 208.35 L641.49 209.00 L642.25 209.62 L643.02 210.22 L643.78 210.80 L644.55 211.35 L645.31 211.87 L646.08 212.37 L646.84 212.86 L647.61 213.31 L648.37 213.75 L649.14 214.17 L649.91 214.56 L650.67 214.94 L651.44 215.30 L652.20 215.64 L652.97 215.96 L653.73 216.26 L654.50 216.54 L655.26 216.81 L656.03 217.07 L656.79 217.30 L657.56 217.53 L658.32 217.73 L659.09 217.93 L659.86 218.11 L660.62 218.27 L661.39 218.43 L662.15 218.57 L662.92 218.71 L663.68 218.83 L664.45 218.94 L665.21 219.04 L665.98 219.13 L666.74 219.22 L667.51 219.29 L668.28 219.36 L669.04 219.42 L669.81 219.48 L670.57 219.53 L671.34 219.57 L672.10 219.61 L672.87 219.65 L673.63 219.68 L674.40 219.71 L675.16 219.73 L675.93 219.76 L676.69 219.78 L677.46 219.80 L678.23 219.82 L678.99 219.84 L679.76 219.86 L680.52 219.87 L681.29 219.89 L682.05 219.90 L682.82 219.92 L683.58 219.93 L684.35 219.94 L685.11 219.94 L685.88 219.95 L686.65 219.95 L687.41 219.96 L688.18 219.96 L688.94 219.95 L689.71 219.95 L690.47 219.94 L691.24 219.94 L692.00 219.92 L692.77 219.91 L693.53 219.90 L694.30 219.88 L695.06 219.86 L695.83 219.83 L696.60 219.80 L697.36 219.77 L698.13 219.74 L698.89 219.71 L699.66 219.67 L700.42 219.62 L701.19 219.58 L701.95 219.53 L702.72 219.48 L703.48 219.42 L704.25 219.36 L705.02 219.30 L705.78 219.23 L706.55 219.16 L707.31 219.08 L708.08 219.01 L708.84 218.92 L709.61 218.84 L710.37 218.74 L711.14 218.65 L711.90 218.55 L712.67 218.44 L713.43 218.33 L714.20 218.22" stroke="#ff1010" stroke-width="1.75" fill="none" stroke-linejoin="round" stroke-linecap="butt"/>
<path d="M403.85 253.30 H408.75 M406.25 232.80 H408.75 M403.85 212.30 H408.75 M406.25 191.80 H408.75 M403.85 171.30 H408.75 M406.25 150.80 H408.75 M403.85 130.30 H408.75 M406.25 109.80 H408.75 M403.85 89.30 H408.75 M406.25 68.80 H408.75 M403.85 48.30 H408.75 M406.25 27.80 H408.75 M403.85 7.30 H408.75 M408.75 253.30 V257.90 M427.84 253.30 V255.70 M446.93 253.30 V257.90 M466.02 253.30 V255.70 M485.11 253.30 V257.90 M504.20 253.30 V255.70 M523.29 253.30 V257.90 M542.38 253.30 V255.70 M561.48 253.30 V257.90 M580.57 253.30 V255.70 M599.66 253.30 V257.90 M618.75 253.30 V255.70 M637.84 253.30 V257.90 M656.93 253.30 V255.70 M676.02 253.30 V257.90 M695.11 253.30 V255.70 M714.20 253.30 V257.90" stroke="#000" stroke-width="1.75" fill="none"/>
<rect x="408.75" y="7.30" width="305.45" height="246.00" fill="none" stroke="#000" stroke-width="1.90"/>
<text x="400.30" y="257.00" text-anchor="end" class="t" transform="rotate(0.03 400.30 257.00)">0.0</text>
<text x="400.30" y="216.00" text-anchor="end" class="t" transform="rotate(0.03 400.30 216.00)">0.5</text>
<text x="400.30" y="175.00" text-anchor="end" class="t" transform="rotate(0.03 400.30 175.00)">1.0</text>
<text x="400.30" y="134.00" text-anchor="end" class="t" transform="rotate(0.03 400.30 134.00)">1.5</text>
<text x="400.30" y="93.00" text-anchor="end" class="t" transform="rotate(0.03 400.30 93.00)">2.0</text>
<text x="400.30" y="52.00" text-anchor="end" class="t" transform="rotate(0.03 400.30 52.00)">2.5</text>
<text x="400.30" y="11.00" text-anchor="end" class="t" transform="rotate(0.03 400.30 11.00)">3.0</text>
<text x="408.75" y="269.50" text-anchor="middle" class="t" transform="rotate(0.03 408.75 269.50)">-0.50</text>
<text x="446.93" y="269.50" text-anchor="middle" class="t" transform="rotate(0.03 446.93 269.50)">-0.45</text>
<text x="485.11" y="269.50" text-anchor="middle" class="t" transform="rotate(0.03 485.11 269.50)">-0.40</text>
<text x="523.29" y="269.50" text-anchor="middle" class="t" transform="rotate(0.03 523.29 269.50)">-0.35</text>
<text x="561.48" y="269.50" text-anchor="middle" class="t" transform="rotate(0.03 561.48 269.50)">-0.30</text>
<text x="599.66" y="269.50" text-anchor="middle" class="t" transform="rotate(0.03 599.66 269.50)">-0.25</text>
<text x="637.84" y="269.50" text-anchor="middle" class="t" transform="rotate(0.03 637.84 269.50)">-0.20</text>
<text x="676.02" y="269.50" text-anchor="middle" class="t" transform="rotate(0.03 676.02 269.50)">-0.15</text>
<text x="714.20" y="269.50" text-anchor="middle" class="t" transform="rotate(0.03 714.20 269.50)">-0.10</text>
<text class="c" text-anchor="middle" transform="translate(372.7 122.75) rotate(-90)">Current/μA</text>
<text class="l" text-anchor="middle" x="561.7" y="289.5" transform="rotate(0.03 561.7 289.5)">Potential/V</text>
<text class="m" x="420.6" y="28" transform="rotate(0.03 420.6 28)">(B)</text>
<path d="M591.20 35.50 H610.80" stroke="#000" stroke-width="1.8" fill="none"/>
<path d="M621.30 35.50 L609.80 32.20 L609.80 38.80 Z" fill="#000"/>
<text class="m" style="font-size:12.8px" x="622.3" y="41.5" transform="rotate(0.03 622.2 41.5)">step e</text>
<path d="M592.70 79.20 H615.50" stroke="#000" stroke-width="1.8" fill="none"/>
<path d="M626.00 79.20 L614.50 75.90 L614.50 82.50 Z" fill="#000"/>
<text class="m" x="625.8" y="84.3" transform="rotate(0.03 625.8 84.3)">step d</text>
<path d="M596.20 107.90 H610.40" stroke="#000" stroke-width="1.8" fill="none"/>
<path d="M620.90 107.90 L609.40 104.60 L609.40 111.20 Z" fill="#000"/>
<text class="m" style="font-size:12.5px" x="628.1" y="113.3" transform="rotate(0.03 628 113.4)">step&#160;&#160;f</text>
<path d="M597.00 131.40 H616.10" stroke="#000" stroke-width="1.8" fill="none"/>
<path d="M626.60 131.40 L615.10 128.10 L615.10 134.70 Z" fill="#000"/>
<text class="m" style="font-size:12.7px" x="630.2" y="135.6" transform="rotate(0.03 630.1 135.6)">step g</text>
</svg>
</body></html>
